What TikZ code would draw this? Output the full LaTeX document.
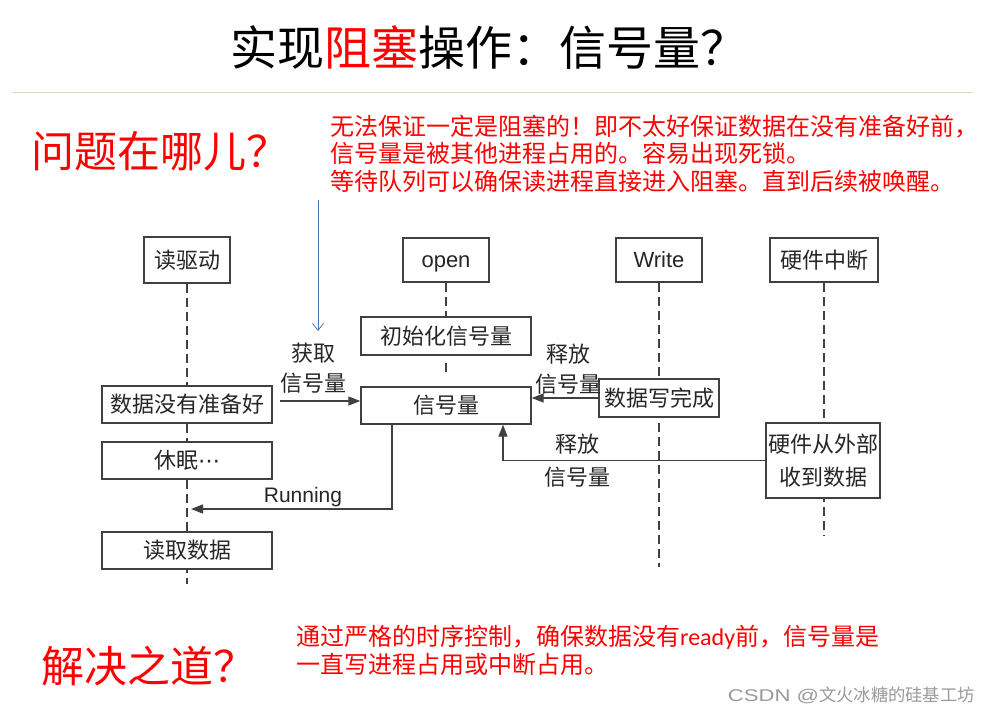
\documentclass[tikz,border=0pt]{standalone}
\usepackage{fontspec}
\setmainfont{Liberation Sans}
\newfontfamily\cjk{Noto Sans CJK SC}
\newfontfamily\calfont{Carlito}
\newfontfamily\djv{DejaVu Sans}
\usetikzlibrary{arrows.meta,backgrounds}
\definecolor{boxc}{HTML}{404040}
\definecolor{txtc}{HTML}{262626}
\definecolor{rulec}{HTML}{DDD9C3}
\definecolor{bluec}{HTML}{4A74B8}
\definecolor{redc}{HTML}{FF0000}
\definecolor{wmc}{HTML}{9A9A9A}
\begin{document}
\begin{tikzpicture}[x=1pt,y=-1pt,
  box/.style={draw=boxc, line width=1.3pt, fill=white, inner sep=0pt, text=txtc,
    font=\cjk\fontsize{22}{33}\selectfont, align=center},
  latbox/.style={box, font=\fontsize{22}{26}\selectfont, text height=16pt, text depth=2pt},
  lbl/.style={inner sep=0pt, text=txtc, font=\cjk\fontsize{22}{30}\selectfont, align=center},
  life/.style={draw=boxc, line width=1.5pt, dash pattern=on 9pt off 5pt},
  arr/.style={draw=boxc, line width=1.3pt, -{Triangle[length=12pt,width=9pt]}},
  redtxt/.style={inner sep=0pt, text=redc, align=left}
]
\useasboundingbox (0,0) rectangle (992,715);

% title
\node[inner sep=0pt, anchor=west, font=\cjk\fontsize{47}{52}\selectfont] (title) at (230,48)
  {实现\textcolor{redc}{阻塞}操作：信号量？};
\draw[rulec, line width=1pt] (12,92) coordinate (ruleL) -- (973,92) coordinate (ruleR);

% questions
\node[inner sep=0pt, text=redc, font=\cjk\fontsize{43}{48}\selectfont, anchor=west] (q1) at (31,151.5) {问题在哪儿？};
\node[redtxt, font=\cjk\fontsize{24}{27.5}\selectfont, anchor=west] (note1) at (330,153.5)
  {无法保证一定是阻塞的！即不太好保证数据在没有准备好前，\\
   信号量是被其他进程占用的。容易出现死锁。\\
   等待队列可以确保读进程直接进入阻塞。直到后续被唤醒。};

\node[inner sep=0pt, text=redc, font=\cjk\fontsize{43}{48}\selectfont, anchor=west] (q2) at (41,666) {解决之道？};
\node[redtxt, font=\cjk\fontsize{24}{28}\selectfont, anchor=west] (note2) at (296,650)
  {通过严格的时序控制，确保数据没有{\calfont ready}前，信号量是\\
   一直写进程占用或中断占用。};

\node[inner sep=0pt, text=wmc, font=\cjk\fontsize{17.3}{20}\selectfont, anchor=east] (wm) at (975,695)
  {{\fontsize{17}{20}\selectfont\fontspec{Liberation Sans}\scalebox{1.3}[1]{CSDN @}}文火冰糖的硅基工坊};

% header boxes
\node[box, minimum width=86pt, minimum height=46pt] (dq) at (187,260) {读驱动};
\node[latbox, minimum width=86pt, minimum height=44pt] (open) at (446,260) {open};
\node[latbox, minimum width=86pt, minimum height=44pt] (write) at (659,260) {Write};
\node[box, minimum width=108pt, minimum height=44pt] (hw) at (824,260) {硬件中断};

% activity boxes
\node[box, minimum width=170pt, minimum height=38pt] (init) at (446,336) {初始化信号量};
\node[box, minimum width=170pt, minimum height=37pt] (sem) at (446,405.5) {信号量};
\node[box, minimum width=170pt, minimum height=37pt] (notready) at (187,404.5) {数据没有准备好};
\node[box, minimum width=170pt, minimum height=37pt] (sleep) at (187,460.5) {休眠{\djv ⋯}};
\node[box, minimum width=170pt, minimum height=37pt] (readdata) at (187,550.5) {读取数据};
\node[box, minimum width=120pt, minimum height=38pt] (wdone) at (659,398) {数据写完成};
\node[box, minimum width=114pt, minimum height=75pt] (hwdata) at (823,460.5) {硬件从外部\\收到数据};

% coordinates
\coordinate (dqend) at (187,584);
\coordinate (openend) at (446,372);
\coordinate (writeend) at (659,567);
\coordinate (hwend) at (824,535);
\coordinate (getstart) at (280,401);
\coordinate (runx) at (392,0);
\coordinate (runend) at (191,509);
\coordinate (relx) at (503,0);
\coordinate (blueTop) at (318,200);
\coordinate (blueEnd) at (318,331);

% lifelines
\begin{scope}[on background layer]
\fill[white] (0,0) rectangle (992,715);
\draw[life] (dq.south) -- (dqend);
\draw[life] (open.south) -- (init.north);
\draw[life, dash pattern=on 0pt off 7pt on 10pt off 30pt] (init.south) -- (openend);
\draw[life] (write.south) -- (writeend);
\draw[life] (hw.south) -- (hwend);
\end{scope}

% messages
\draw[arr] (getstart) -- (getstart -| sem.west);
\draw[arr] (sem.south -| runx) |- (runend);
\draw[arr] (wdone.west) -- (wdone.west -| sem.east);
\draw[arr] (hwdata.west) -| (sem.south -| relx);

\draw[bluec, line width=0.8pt, -{Straight Barb[length=7pt,width=11pt]}] (blueTop) -- (blueEnd);

% labels
\node[lbl] (lget) at (313,368) {获取\\信号量};
\node[lbl] (lrel1) at (568,369) {释放\\信号量};
\node[lbl, font=\cjk\fontsize{22}{33}\selectfont] (lrel2) at (577,460.5) {释放\\信号量};
\node[inner sep=0pt, text=txtc, font=\fontsize{21}{24}\selectfont] (lrun) at (303,497) {Running};
\end{tikzpicture}
\end{document}
